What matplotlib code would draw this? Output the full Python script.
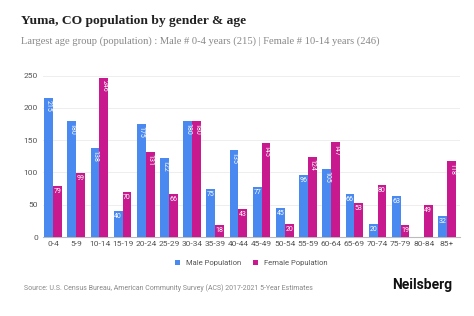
import matplotlib.pyplot as plt
import numpy as np

age_groups = ['0-4', '5-9', '10-14', '15-19', '20-24', '25-29', '30-34', '35-39',
              '40-44', '45-49', '50-54', '55-59', '60-64', '65-69', '70-74',
              '75-79', '80-84', '85+']
male = [215, 180, 138, 40, 175, 122, 180, 75, 135, 77, 45, 96, 105, 66, 20, 63, 0, 32]
female = [79, 99, 246, 70, 131, 66, 180, 18, 43, 145, 20, 124, 147, 53, 80, 19, 49, 118]
yticks = [0, 50, 100, 150, 200, 250]

male_color = '#4A89F0'
female_color = '#C8198F'

plt.rcParams['font.family'] = ['Roboto', 'DejaVu Sans']

fig = plt.figure(figsize=(4.74, 3.16), dpi=100)
ax = fig.add_axes([0.09, 0.25, 0.88, 0.535])

x = np.arange(len(age_groups))
w = 0.38
bm = ax.bar(x - w / 2, male, w, color=male_color, label='Male Population', zorder=3)
bf = ax.bar(x + w / 2, female, w, color=female_color, label='Female Population', zorder=3)

def label_bars(bars, vals):
    for b, v in zip(bars, vals):
        if v <= 0:
            continue
        cx = b.get_x() + b.get_width() / 2
        top = b.get_height()
        if v >= 100:
            ax.text(cx, top - 3, str(v), rotation=-90, ha='center', va='top',
                    fontsize=5, color='white', zorder=4)
        else:
            ax.text(cx, top - 3, str(v), ha='center', va='top',
                    fontsize=5, color='white', zorder=4)

label_bars(bm, male)
label_bars(bf, female)

ax.set_xlim(-0.45, 17.55)
ax.set_ylim(0, 262)
ax.set_yticks(yticks)
ax.set_xticks(x)
ax.set_xticklabels(age_groups)
ax.tick_params(axis='both', length=0, labelsize=6, colors='#555555')
ax.tick_params(axis='x', pad=3)
ax.grid(axis='y', color='#eeeeee', linewidth=0.7, zorder=0)
for s in ['top', 'right', 'left']:
    ax.spines[s].set_visible(False)
ax.spines['bottom'].set_color('#bbbbbb')
ax.spines['bottom'].set_linewidth(0.8)

fig.text(0.045, 0.925, 'Yuma, CO population by gender & age', fontsize=9.7,
         family=['Liberation Serif', 'DejaVu Serif'], fontweight='bold', color='#222222')
fig.text(0.045, 0.862, 'Largest age group (population) : Male # 0-4 years (215) | Female # 10-14 years (246)',
         fontsize=7.6, family=['Liberation Serif', 'DejaVu Serif'], color='#888888')

fig.legend(handles=[bm, bf], loc='center', bbox_to_anchor=(0.53, 0.168), ncol=2,
           frameon=False, fontsize=5.5, handlelength=0.7, handleheight=0.7,
           columnspacing=1.5, handletextpad=0.8, labelcolor='#555555')

fig.text(0.05, 0.083, 'Source: U.S. Census Bureau, American Community Survey (ACS) 2017-2021 5-Year Estimates',
         fontsize=5.0, color='#888888')
fig.text(0.955, 0.085, 'Neilsberg', fontsize=10, fontweight='bold', ha='right', color='#111111')

fig.savefig('out.png', dpi=100)
